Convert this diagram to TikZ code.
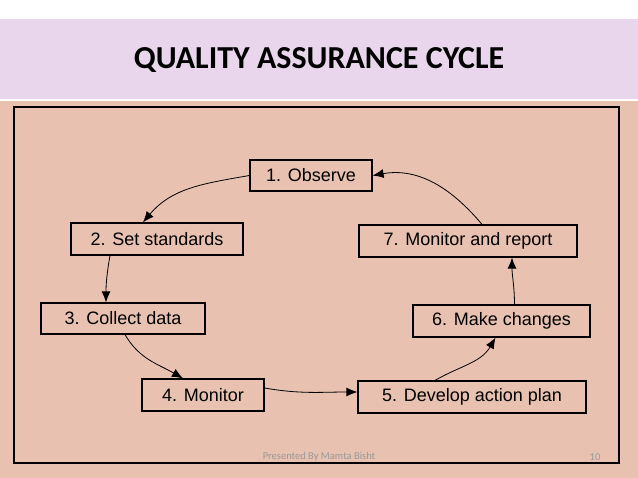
\documentclass[tikz,border=0pt]{standalone}
\usepackage{fontspec}
\setmainfont{Liberation Sans}
\newfontfamily\titlefont{Carlito}
\usetikzlibrary{arrows.meta}
\begin{document}
\begin{tikzpicture}[x=1pt,y=-1pt,
  box/.style={draw,line width=1.2pt,fill=none,inner sep=0pt,font=\fontsize{18}{21}\selectfont},
  arr/.style={line width=0.8pt,-{Latex[length=11pt,width=9pt]}}]
\useasboundingbox (0,0) rectangle (638,478);
\fill[white] (0,0) rectangle (638,478);
\fill[fill={rgb,255:red,233;green,214;blue,236}] (0,19) rectangle (638,99);
\fill[fill={rgb,255:red,232;green,193;blue,176}] (0,101) rectangle (638,478);
\node[font=\titlefont\bfseries\fontsize{32}{38}\selectfont] (title) at (319,60) {QUALITY ASSURANCE CYCLE};
\draw[line width=1.3pt] (14,107) rectangle (619,463);
\node[box,minimum width=122pt,minimum height=31pt] (n1) at (311,175.5) {1. Observe};
\node[box,minimum width=172pt,minimum height=32pt] (n2) at (157,239) {2. Set standards};
\node[box,minimum width=164pt,minimum height=31pt] (n3) at (123,318.5) {3. Collect data};
\node[box,minimum width=122pt,minimum height=32pt] (n4) at (203,395) {4. Monitor};
\node[box,minimum width=228pt,minimum height=32pt] (n5) at (472,397) {5. Develop action plan};
\node[box,minimum width=177pt,minimum height=32pt] (n6) at (501.5,321) {6. Make changes};
\node[box,minimum width=218pt,minimum height=32pt] (n7) at (468,241) {7. Monitor and report};
\draw[arr] (n1.west) to[out=190,in=50] ([xshift=-14pt]n2.north);
\draw[arr] ([xshift=-47pt]n2.south) to[out=260,in=90] ([xshift=-17pt]n3.north);
\draw[arr] ([xshift=2pt]n3.south) to[out=-60,in=150] ([xshift=-20pt]n4.north);
\draw[arr] ([yshift=7pt]n4.east) to[out=-10,in=180] ([yshift=5pt]n5.west);
\draw[arr] ([xshift=-37pt]n5.north) to[out=30,in=-120] ([xshift=-6pt]n6.south);
\draw[arr] ([xshift=13pt]n6.north) to[out=90,in=-90] ([xshift=44pt]n7.south);
\draw[arr] ([xshift=14pt]n7.north) to[out=130,in=10] (n1.east);
\node[font=\titlefont\fontsize{10.5}{12}\selectfont,text=gray!80] (foot) at (319,457) {Presented By Mamta Bisht};
\node[font=\titlefont\fontsize{10.5}{12}\selectfont,text=gray!80] (pg) at (595,457) {10};
\end{tikzpicture}
\end{document}
